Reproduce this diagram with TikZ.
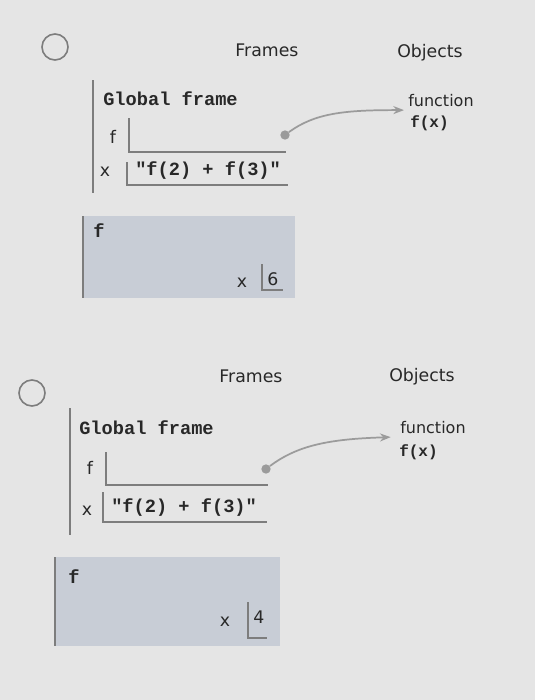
\documentclass[tikz,border=0pt]{standalone}
\usepackage{fontspec}
\setmainfont{DejaVu Sans}
\setmonofont{Liberation Mono}
\usetikzlibrary{arrows.meta}

\definecolor{bgcol}{RGB}{229,229,229}
\definecolor{txtcol}{RGB}{40,40,40}
\definecolor{linecol}{RGB}{125,125,125}
\definecolor{boxcol}{RGB}{200,205,214}
\definecolor{arrcol}{RGB}{155,155,155}

\tikzset{
  hdr/.style={font=\fontsize{13}{15}\selectfont, text=txtcol},
  objtext/.style={font=\fontsize{12}{14}\selectfont, text=txtcol, anchor=west, inner sep=0pt},
  code/.style={font=\fontsize{14}{16}\selectfont\ttfamily\bfseries, text=txtcol, anchor=west, inner sep=0pt},
  smallcode/.style={font=\fontsize{12}{14}\selectfont\ttfamily\bfseries, text=txtcol, anchor=west, inner sep=0pt},
  var/.style={font=\fontsize{13}{15}\selectfont, text=txtcol, inner sep=0pt},
  slot/.style={draw=linecol, line width=1.2pt},
  ptr/.style={draw=arrcol, line width=1.3pt, -{Stealth[length=8pt,width=6pt]}},
  radio/.style={draw=linecol, line width=1.2pt}
}

\begin{document}
\begin{tikzpicture}[x=0.75pt,y=-0.75pt]

\fill [bgcol] (0,0) rectangle (535,700);
\useasboundingbox (0,0) rectangle (535,700);

% first answer
\draw [radio] (55,47) circle (13);
\node [hdr] (frA) at (267,50) {Frames};
\node [hdr] (objA) at (430,53) {Objects};
\draw [slot] (93,80) -- (93,193);
\node [code] (gA) at (103,99) {Global frame};
\node [var] (fA) at (113,137) {f};
\draw [slot] (129,118) -- (129,152) -- (286,152);
\node [var] (xA) at (105,172) {x};
\draw [slot] (127,162) -- (127,185) -- (288,185);
\node [code] (sA) at (135,171) {"f(2) + f(3)"};
\node [circle, fill=arrcol, inner sep=0pt, minimum size=7pt] (dotA) at (285,135) {};
\node [objtext] (fnA) at (408,101) {function};
\node [smallcode] (fxA) at (410,123) {f(x)};
\draw [ptr] (dotA) .. controls (315,113) and (345,110) .. ([xshift=-3pt,yshift=-2pt]fnA.south west);

\fill [boxcol] (83,216) rectangle (295,298);
\draw [slot] (83,216) -- (83,298);
\node [code] (ffA) at (93,231) {f};
\node [var] (x2A) at (242,283) {x};
\draw [slot] (262,264) -- (262,290) -- (283,290);
\node [var] (vA) at (273,279) {6};

% second answer
\draw [radio] (32,393) circle (13);
\node [hdr] (frB) at (251,376) {Frames};
\node [hdr] (objB) at (422,377) {Objects};
\draw [slot] (70,408) -- (70,535);
\node [code] (gB) at (79,428) {Global frame};
\node [var] (fB) at (90,468) {f};
\draw [slot] (106,452) -- (106,485) -- (268,485);
\node [var] (xB) at (87,511) {x};
\draw [slot] (103,492) -- (103,522) -- (267,522);
\node [code] (sB) at (111,508) {"f(2) + f(3)"};
\node [circle, fill=arrcol, inner sep=0pt, minimum size=7pt] (dotB) at (266,469) {};
\node [objtext] (fnB) at (400,428) {function};
\node [smallcode] (fxB) at (399,452) {f(x)};
\draw [ptr] (dotB) .. controls (298,445) and (330,439) .. ([xshift=-7pt,yshift=-2pt]fnB.south west);

\fill [boxcol] (55,557) rectangle (280,646);
\draw [slot] (55,557) -- (55,646);
\node [code] (ffB) at (68,577) {f};
\node [var] (x2B) at (225,622) {x};
\draw [slot] (248,602) -- (248,638) -- (267,638);
\node [var] (vB) at (259,617) {4};

\end{tikzpicture}
\end{document}
